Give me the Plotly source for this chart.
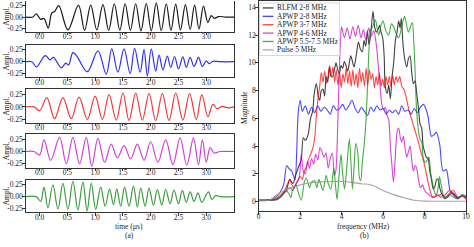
import plotly.graph_objects as go

# ---------------- data ----------------
# (a) time waveforms: extrema (time in us, amplitude)
wave_names = ["RLFM 2-8 MHz", "APWP 2-8 MHz", "APWP 3-7 MHz", "APWP 4-6 MHz", "APWP 5.5-7.5 MHz"]

t_rlfm = [-0.25, -0.12, -0.06, 0.02, 0.08, 0.155, 0.22, 0.27, 0.345, 0.51, 0.70, 0.81, 0.92, 1.03, 1.14,
          1.245, 1.345, 1.445, 1.54, 1.635, 1.73, 1.825, 1.92, 2.01, 2.10, 2.19, 2.28, 2.365, 2.45,
          2.535, 2.625, 2.71, 2.79, 2.87, 2.95, 3.03, 3.09, 3.15, 3.22, 3.35, 3.5]
a_rlfm = [0, 0, 0.07, -0.05, -0.03, -0.24, 0.09, 0.12, 0.25, -0.28, 0.26, -0.29, 0.26, -0.28, 0.27,
          -0.29, 0.29, -0.29, 0.29, -0.29, 0.29, -0.3, 0.3, -0.3, 0.31, -0.3, 0.29, -0.29, 0.28,
          -0.28, 0.27, -0.27, 0.26, -0.26, 0.24, -0.12, 0.03, -0.03, 0.01, 0.0, 0.0]

t_b28 = [-0.25, -0.14, -0.055, 0.1, 0.19, 0.25, 0.39, 0.47, 0.52, 0.6, 0.67, 0.86, 1.05, 1.2, 1.3,
         1.41, 1.52, 1.63, 1.71, 1.81, 1.88, 1.94, 2.01, 2.09, 2.15, 2.22, 2.3, 2.36, 2.43, 2.5,
         2.58, 2.64, 2.71, 2.78, 2.86, 2.93, 3.0, 3.05, 3.12, 3.25, 3.5]
a_b28 = [0, 0, -0.11, 0.13, 0.04, 0.09, -0.13, -0.03, -0.07, 0.19, 0.12, -0.21, 0.23, -0.26, 0.27,
         -0.22, 0.27, -0.25, 0.28, -0.22, 0.26, -0.3, 0.27, -0.2, 0.14, -0.17, 0.12, -0.12, 0.11, -0.15,
         0.1, -0.12, 0.09, -0.1, 0.09, -0.1, 0.02, -0.04, 0.01, 0.0, 0.0]

t_r37 = [-0.25, -0.1, 0.0, 0.13, 0.27, 0.42, 0.57, 0.71, 0.86, 1.0, 1.13, 1.25, 1.38, 1.5, 1.61, 1.73,
         1.85, 1.97, 2.09, 2.21, 2.33, 2.45, 2.58, 2.7, 2.82, 2.92, 3.03, 3.12, 3.2, 3.28, 3.4, 3.5]
a_r37 = [0, 0, -0.08, 0.19, -0.24, 0.19, -0.24, 0.2, -0.26, 0.22, -0.26, 0.25, -0.27, 0.28, -0.28, 0.28,
         -0.27, 0.27, -0.28, 0.27, -0.28, 0.28, -0.27, 0.27, -0.26, 0.25, -0.2, 0.05, -0.04, 0.01, -0.02, 0.0]

t_m46 = [-0.25, -0.1, 0.0, 0.08, 0.2, 0.36, 0.48, 0.6, 0.72, 0.84, 0.94, 1.05, 1.17, 1.29, 1.4, 1.52,
         1.64, 1.76, 1.88, 2.0, 2.13, 2.27, 2.4, 2.53, 2.65, 2.77, 2.86, 2.93, 3.0, 3.07, 3.14, 3.25, 3.5]
a_m46 = [0, 0, -0.07, 0.24, -0.18, 0.29, -0.25, 0.29, -0.25, 0.29, -0.3, 0.27, -0.22, 0.15, -0.13, 0.12,
         -0.15, 0.15, -0.18, 0.2, -0.22, 0.24, -0.27, 0.28, -0.28, 0.28, -0.27, 0.24, -0.22, 0.08, -0.03, 0.0, 0.0]

t_g55 = [-0.25, -0.06, 0.02, 0.08, 0.15, 0.24, 0.33, 0.42, 0.51, 0.6, 0.69, 0.78, 0.855, 0.93, 1.01,
         1.1, 1.18, 1.26, 1.33, 1.39, 1.46, 1.53, 1.61, 1.69, 1.76, 1.82, 1.9, 1.97, 2.05, 2.12, 2.2,
         2.27, 2.35, 2.42, 2.5, 2.57, 2.64, 2.71, 2.78, 2.85, 2.92, 3.04, 3.1, 3.17, 3.25, 3.5]
a_g55 = [0, 0, -0.1, 0.2, -0.24, 0.25, -0.26, 0.28, -0.27, 0.32, -0.28, 0.31, -0.3, 0.28, -0.27,
         0.2, -0.2, 0.16, -0.17, 0.16, -0.2, 0.2, -0.2, 0.22, -0.22, 0.18, -0.2, 0.18, -0.18, 0.15, -0.18,
         0.15, -0.15, 0.14, -0.15, 0.13, -0.12, 0.1, -0.1, 0.08, -0.12, 0.1, -0.06, 0.02, 0.0, 0.0]

wave_t = [t_rlfm, t_b28, t_r37, t_m46, t_g55]
wave_a = [a_rlfm, a_b28, a_r37, a_m46, a_g55]

# (b) magnitude spectra
spec_names = ["RLFM 2-8 MHz", "APWP 2-8 MHz", "APWP 3-7 MHz", "APWP 4-6 MHz", "APWP 5.5-7.5 MHz", "Pulse 5 MHz"]

f_rlfm = [0, 0.4, 0.8, 1.0, 1.2, 1.35, 1.5, 1.65, 1.8, 1.95, 2.05, 2.15, 2.25, 2.38, 2.5, 2.6, 2.68, 2.78,
          2.88, 2.94, 3.02, 3.1, 3.18, 3.25, 3.33, 3.41, 3.49, 3.57, 3.65, 3.73, 3.81, 3.89, 3.97, 4.05,
          4.13, 4.21, 4.29, 4.37, 4.44, 4.52, 4.6, 4.7, 4.81, 4.9, 5.0, 5.08, 5.16, 5.24, 5.32, 5.4, 5.51,
          5.59, 5.67, 5.75, 5.83, 5.9, 5.98, 6.05, 6.11, 6.2, 6.27, 6.35, 6.43, 6.51, 6.59, 6.67, 6.75,
          6.82, 6.88, 6.96, 7.05, 7.14, 7.22, 7.3, 7.38, 7.46, 7.54, 7.62, 7.7, 7.78, 7.86, 7.93, 8.0,
          8.08, 8.17, 8.25, 8.33, 8.42, 8.5, 8.58, 8.65, 8.73, 8.81, 8.9, 8.97, 9.1, 9.3, 9.45, 9.6, 9.8, 10]
m_rlfm = [0.1, 0.1, 0.15, 0.3, 0.6, 0.9, 1.6, 1.3, 2.0, 2.6, 3.0, 4.6, 4.4, 4.8, 6.0, 6.5, 7.8, 8.5,
          7.5, 7.3, 8.0, 8.1, 7.6, 9.0, 8.6, 9.7, 9.0, 9.0, 9.5, 10.0, 9.5, 9.2, 9.8, 9.6,
          10.1, 9.8, 9.4, 10.0, 10.5, 10.1, 9.7, 10.5, 11.5, 11.0, 10.8, 11.6, 11.2, 12.3, 11.3, 12.0, 13.7,
          12.6, 12.2, 12.4, 12.7, 12.2, 11.8, 10.5, 8.2, 7.8, 8.4, 7.4, 9.0, 10.0, 11.6, 12.2, 13.0,
          12.5, 13.2, 11.3, 10.2, 9.7, 10.3, 10.5, 9.3, 8.5, 8.7, 7.8, 6.8, 5.6, 5.3, 4.0, 3.6,
          3.2, 3.1, 2.2, 1.6, 0.9, 1.1, 1.6, 1.6, 1.0, 0.6, 0.4, 0.2, 0.3, 0.6, 0.4, 0.2, 0.4, 0.3]

f_b28 = [0, 0.3, 0.6, 0.8, 1.0, 1.2, 1.35, 1.45, 1.59, 1.75, 1.83, 1.9, 2.0, 2.1, 2.25, 2.4, 2.55, 2.7,
         2.85, 3.0, 3.15, 3.3, 3.45, 3.6, 3.75, 3.9, 4.05, 4.2, 4.35, 4.5, 4.65, 4.8, 4.95, 5.1, 5.25,
         5.4, 5.55, 5.7, 5.85, 6.0, 6.15, 6.3, 6.45, 6.6, 6.75, 6.9, 7.05, 7.2, 7.35, 7.5, 7.65, 7.8,
         7.95, 8.08, 8.17, 8.33, 8.45, 8.57, 8.73, 8.89, 9.05, 9.15, 9.25, 9.44, 9.6, 9.8, 10]
m_b28 = [0.1, 0.1, 0.15, 0.3, 0.6, 1.2, 2.6, 2.4, 2.2, 1.6, 3.5, 6.3, 7.3, 6.5, 6.9, 6.3, 6.8, 6.4,
         6.9, 6.5, 6.8, 6.6, 6.3, 6.9, 6.6, 6.7, 7.0, 6.6, 6.9, 7.3, 6.7, 6.4, 6.8, 6.5, 6.2,
         6.8, 6.5, 6.9, 6.6, 6.7, 6.3, 6.6, 6.4, 6.6, 6.3, 6.9, 6.5, 6.6, 6.3, 6.7, 6.4, 6.8,
         7.0, 6.6, 6.1, 4.7, 4.8, 5.0, 4.1, 2.2, 2.3, 1.5, 0.7, 0.5, 0.3, 0.4, 0.3]

f_r37 = [0, 0.5, 0.8, 1.0, 1.2, 1.4, 1.5, 1.6, 1.7, 1.85, 2.0, 2.1, 2.2, 2.3, 2.4, 2.5, 2.6, 2.7, 2.78,
         2.86, 2.94, 3.02, 3.1, 3.18, 3.26, 3.34, 3.42, 3.5, 3.58, 3.66, 3.74, 3.82, 3.9, 3.98, 4.06,
         4.14, 4.22, 4.3, 4.38, 4.46, 4.54, 4.62, 4.7, 4.78, 4.86, 4.94, 5.02, 5.1, 5.18, 5.26, 5.34,
         5.42, 5.5, 5.58, 5.66, 5.74, 5.82, 5.9, 5.98, 6.06, 6.14, 6.22, 6.3, 6.38, 6.46, 6.54, 6.62,
         6.7, 6.8, 6.9, 7.0, 7.1, 7.2, 7.3, 7.4, 7.5, 7.6, 7.7, 7.8, 7.9, 8.0, 8.1, 8.2, 8.3, 8.4,
         8.6, 8.8, 9.0, 9.2, 9.4, 9.6, 9.8, 10]
m_r37 = [0.1, 0.1, 0.2, 0.4, 0.7, 1.3, 1.6, 1.2, 1.0, 1.4, 1.8, 1.6, 2.2, 2.5, 3.0, 3.4, 3.8, 4.6, 6.2,
         7.4, 8.3, 9.3, 8.6, 9.4, 8.5, 9.0, 9.8, 9.0, 9.7, 8.6, 9.5, 8.4, 9.3, 8.2, 9.2,
         8.6, 9.6, 8.5, 9.4, 8.3, 9.5, 8.4, 9.2, 8.2, 9.6, 8.6, 9.3, 8.3, 9.6, 8.4, 9.5,
         8.8, 9.2, 8.2, 9.0, 8.4, 9.3, 8.3, 8.8, 8.2, 9.0, 8.4, 9.0, 8.3, 9.1, 8.4, 9.0,
         8.6, 9.0, 8.3, 8.1, 7.6, 6.9, 6.3, 5.8, 5.3, 4.8, 4.3, 3.7, 3.2, 2.6, 1.9, 1.2, 0.6, 0.3,
         0.4, 0.5, 0.3, 0.6, 0.8, 0.3, 0.4, 0.2]

f_m46 = [0, 0.5, 0.9, 1.1, 1.3, 1.5, 1.65, 1.8, 1.95, 2.05, 2.15, 2.25, 2.35, 2.45, 2.55, 2.65, 2.75,
         2.85, 2.95, 3.05, 3.15, 3.25, 3.35, 3.45, 3.55, 3.65, 3.72, 3.78, 3.84, 3.9, 3.96, 4.0, 4.13,
         4.27, 4.4, 4.54, 4.67, 4.8, 4.93, 5.05, 5.17, 5.3, 5.42, 5.55, 5.68, 5.78, 5.86, 5.94, 6.03,
         6.11, 6.19, 6.27, 6.35, 6.43, 6.5, 6.58, 6.67, 6.75, 6.83, 6.9, 6.98, 7.06, 7.14, 7.22, 7.3,
         7.38, 7.46, 7.54, 7.62, 7.7, 7.8, 7.9, 8.0, 8.2, 8.4, 8.6, 8.8, 9.0, 9.2, 9.4, 9.6, 9.8, 10]
m_m46 = [0.1, 0.1, 0.15, 0.4, 0.7, 1.0, 0.8, 1.3, 1.7, 3.4, 2.2, 2.0, 2.9, 2.4, 3.1, 2.7, 3.4,
         3.0, 3.9, 3.6, 3.2, 3.5, 2.4, 3.1, 3.5, 1.9, 2.2, 4.0, 7.0, 10.0, 12.0, 12.6, 11.8,
         12.5, 11.7, 12.6, 11.9, 12.7, 11.8, 12.4, 11.6, 12.5, 11.9, 12.3, 11.2, 9.6, 8.2, 7.0, 6.6,
         6.8, 6.2, 5.9, 4.0, 2.5, 1.4, 3.0, 5.0, 5.3, 4.6, 4.3, 4.7, 3.8, 3.2, 3.6, 4.0,
         3.0, 2.2, 2.6, 2.4, 1.6, 1.0, 1.2, 0.8, 0.5, 0.3, 0.5, 0.3, 0.5, 0.8, 0.6, 0.2, 0.4, 0.3]

f_g55 = [0, 0.5, 0.9, 1.1, 1.3, 1.45, 1.55, 1.65, 1.8, 1.9, 2.05, 2.2, 2.3, 2.45, 2.55, 2.7, 2.8, 2.9,
         3.0, 3.1, 3.25, 3.35, 3.48, 3.62, 3.7, 3.78, 3.88, 3.97, 4.05, 4.14, 4.25, 4.37, 4.45, 4.52,
         4.6, 4.68, 4.78, 4.85, 4.92, 5.0, 5.08, 5.16, 5.24, 5.32, 5.4, 5.5, 5.63, 5.71, 5.79, 5.9,
         6.0, 6.13, 6.27, 6.4, 6.51, 6.63, 6.75, 6.9, 7.03, 7.12, 7.22, 7.32, 7.41, 7.48, 7.54, 7.6,
         7.66, 7.78, 7.86, 7.94, 8.05, 8.2, 8.3, 8.4, 8.5, 8.57, 8.65, 8.72, 8.8, 8.9, 9.0, 9.2, 9.4,
         9.6, 9.8, 10]
m_g55 = [0.1, 0.1, 0.15, 0.4, 0.8, 0.6, 0.3, 0.9, 1.2, 0.7, 0.1, 1.4, 1.7, 1.0, 1.4, 1.5, 1.0, 1.6,
         1.2, 0.8, 1.9, 1.3, 0.9, 2.4, 1.2, 0.15, 2.0, 3.4, 2.0, 0.9, 2.5, 4.5, 2.8, 0.9,
         2.5, 4.2, 3.5, 1.8, 1.5, 2.9, 4.0, 5.5, 8.0, 11.0, 12.4, 12.6, 13.1, 12.5, 12.0, 12.7,
         13.0, 12.3, 12.0, 12.8, 12.6, 12.1, 11.8, 12.6, 13.35, 12.8, 12.2, 12.6, 12.9, 11.5, 9.5, 7.0,
         5.7, 4.5, 4.3, 3.1, 2.8, 3.2, 2.0, 1.2, 0.6, 0.5, 1.0, 1.8, 1.2, 0.5, 0.3, 0.5, 0.3,
         0.2, 0.5, 0.4]

f_pulse = [0, 0.5, 1.0, 1.5, 2.0, 2.5, 3.0, 3.5, 4.0, 4.5, 5.0, 5.3, 5.6, 6.0, 6.5, 7.0, 7.5, 8.0, 8.5, 9.0, 10]
m_pulse = [0.05, 0.1, 0.6, 1.0, 1.2, 1.35, 1.42, 1.45, 1.45, 1.38, 1.27, 1.25, 1.1, 0.8, 0.5, 0.28, 0.1, 0.03, 0.02, 0.02, 0.02]

spec_f = [f_rlfm, f_b28, f_r37, f_m46, f_g55, f_pulse]
spec_m = [m_rlfm, m_b28, m_r37, m_m46, m_g55, m_pulse]

time_ticks = [0.0, 0.5, 1.0, 1.5, 2.0, 2.5, 3.0]
ampl_ticks = [-0.25, 0.0, 0.25]
ampl_labels = ["-0.25", "0.00", "0.25"]
freq_ticks = [0, 2, 4, 6, 8, 10]
mag_ticks = [0, 2, 4, 6, 8, 10, 12, 14]

# ---------------- styling / layout ----------------
W, H = 474, 247
FONT = "Liberation Serif"
FS = 7.5
TXT = "#222222"
wave_colors = ["#1a1a1a", "#3030f0", "#f03a3a", "#d040d0", "#3c9c3c"]
spec_colors = ["rgba(0,0,0,0.75)", "rgba(0,0,255,0.72)", "rgba(255,0,0,0.72)",
               "rgba(200,0,200,0.72)", "rgba(0,140,0,0.72)", "rgba(150,150,150,0.85)"]


def fx(px):
    return px / W


def fy(px):
    return 1 - px / H


fig = go.Figure()

# left panels: (top_px, bottom_px)
panels = [(0, 31), (44, 77), (89, 123), (134, 168), (180, 213)]
panel_ranges = [[-0.32, 0.35], [-0.33, 0.36], [-0.33, 0.36], [-0.33, 0.36], [-0.33, 0.36]]
LX0, LX1 = 24, 235

layout = dict(
    width=W, height=H, margin=dict(l=0, r=0, t=0, b=0),
    paper_bgcolor="white", plot_bgcolor="white", showlegend=False,
    font=dict(family=FONT, size=FS, color=TXT),
)
annotations = []
shapes = []

axis_common = dict(showgrid=False, zeroline=False, showline=True, linecolor="#333333", linewidth=0.8,
                   ticks="outside", ticklen=2.5, tickwidth=0.8, tickcolor="#333333",
                   tickfont=dict(family=FONT, size=FS, color=TXT))

for i, (top, bot) in enumerate(panels):
    k = i + 1
    xa = "xaxis" if k == 1 else f"xaxis{k}"
    ya = "yaxis" if k == 1 else f"yaxis{k}"
    xr = "x" if k == 1 else f"x{k}"
    yr = "y" if k == 1 else f"y{k}"
    layout[xa] = dict(axis_common, domain=[fx(LX0), fx(LX1)], range=[-0.25, 3.5], anchor=yr,
                      tickvals=time_ticks, tickformat=".1f", mirror=(k != 1), ticklabelstandoff=-5)
    layout[ya] = dict(axis_common, domain=[fy(bot), fy(top)], range=panel_ranges[i], anchor=xr,
                      tickvals=ampl_ticks, ticktext=ampl_labels, mirror=True, ticklabelstandoff=-2)
    fig.add_trace(go.Scatter(x=wave_t[i], y=wave_a[i], mode="lines", name=wave_names[i],
                             line=dict(color=wave_colors[i], width=1.2, shape="spline", smoothing=1.0),
                             xaxis=xr, yaxis=yr, hoverinfo="skip"))
    annotations.append(dict(text="Ampl.", x=fx(4.5), y=fy((top + bot) / 2), xref="paper", yref="paper",
                            xanchor="center", yanchor="middle", textangle=-90, showarrow=False, borderpad=0,
                            font=dict(size=FS, family=FONT, color=TXT)))

# right panel
RX0, RX1, RB = 260, 470, 212
layout["xaxis6"] = dict(axis_common, domain=[fx(RX0), fx(RX1)], range=[0, 10], anchor="y6",
                        tickvals=freq_ticks, mirror=True, ticklabelstandoff=-5)
layout["yaxis6"] = dict(axis_common, domain=[fy(RB), 1.0], range=[-0.7, 14.45], anchor="x6",
                        tickvals=mag_ticks, mirror=True, ticklabelstandoff=-2)
for i in range(len(spec_names)):
    fig.add_trace(go.Scatter(x=spec_f[i], y=spec_m[i], mode="lines", name=spec_names[i],
                             line=dict(color=spec_colors[i], width=1.1, shape="spline", smoothing=0.8),
                             xaxis="x6", yaxis="y6", hoverinfo="skip"))

# axis labels
for txt, x, y, ang in [("time (µs)", 129, 227.5, 0), ("(a)", 129, 236, 0),
                       ("frequency (MHz)", 366, 227.5, 0), ("(b)", 367, 236, 0),
                       ("Magnitude", 245, 107, -90)]:
    annotations.append(dict(text=txt, x=fx(x), y=fy(y), xref="paper", yref="paper", textangle=ang,
                            xanchor="center", yanchor="middle",
                            showarrow=False, borderpad=0, font=dict(size=FS, family=FONT, color=TXT)))

# legend (drawn manually to match compact style)
LG_L, LG_R, LG_T, LG_B = 261, 342, 2, 55
shapes.append(dict(type="rect", xref="paper", yref="paper", x0=fx(LG_L), x1=fx(LG_R), y0=fy(LG_B), y1=fy(LG_T),
                   line=dict(color="#cccccc", width=0.8), fillcolor="rgba(255,255,255,0.8)", layer="above"))
for j, name in enumerate(spec_names):
    yc = 7 + j * 8.45
    shapes.append(dict(type="line", xref="paper", yref="paper", x0=fx(264), x1=fx(275), y0=fy(yc), y1=fy(yc),
                       line=dict(color=spec_colors[j], width=1.3), layer="above"))
    annotations.append(dict(text=name, x=fx(278), y=fy(yc), xref="paper", yref="paper", xanchor="left",
                            yanchor="middle", showarrow=False, borderpad=0,
                            font=dict(size=FS, family=FONT, color=TXT)))

layout["annotations"] = annotations
layout["shapes"] = shapes
fig.update_layout(**layout)
fig.write_html("out.html")
